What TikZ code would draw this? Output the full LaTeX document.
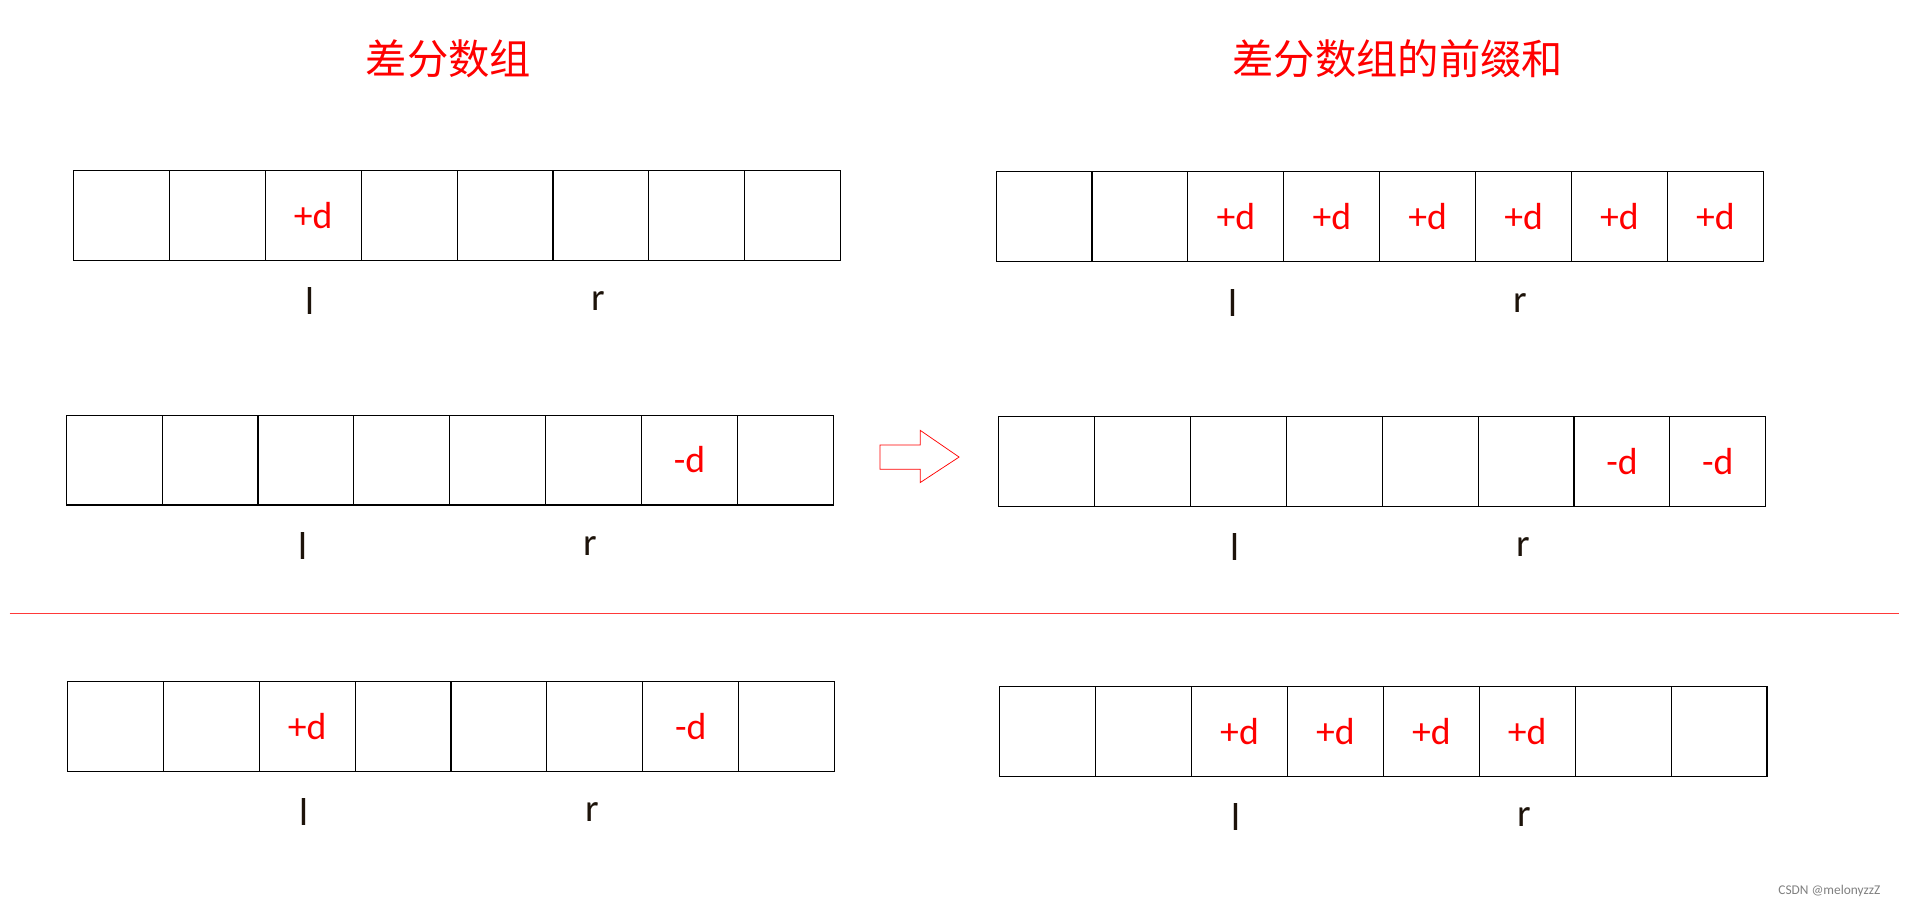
\documentclass[tikz,border=0pt]{standalone}
\usepackage{fontspec}
\setmainfont{Noto Sans CJK SC}
\newfontfamily\latn{Carlito}
\begin{document}
\begin{tikzpicture}[x=1pt,y=-1pt,
  cell/.style={draw=black,line width=0.9pt,minimum width=78.9pt,minimum height=74pt,inner sep=0pt,anchor=north west,font=\latn\fontsize{31}{31}\selectfont,text=red},
  lbl/.style={font=\latn\fontsize{32}{32}\selectfont,text=black!85!brown},
  ttl/.style={font=\fontsize{34}{34}\selectfont,text=red}]
\useasboundingbox (0,0) rectangle (1568,748);
\fill[white] (0,0) rectangle (1568,748);
\node[ttl] (t1) at (369,48) {差分数组};
\node[ttl] (t2) at (1150,48) {差分数组的前缀和};
\foreach \nm/\x/\y/\a/\b/\c/\d/\e/\f/\g/\h in {
  A/60/140/ / /+d/ / / / / ,
  B/819/141/ / /+d/+d/+d/+d/+d/+d,
  C/54/341/ / / / / / /-d/ ,
  D/821/342/ / / / / / /-d/-d,
  E/55/560/ / /+d/ / / /-d/ ,
  F/822/564/ / /+d/+d/+d/+d/ / }{
  \foreach \t [count=\i from 0] in {\a,\b,\c,\d,\e,\f,\g,\h}
    \node[cell] (\nm\i) at (\x+\i*78.9,\y) {\t};
  \node[lbl] (\nm l) at (\x+195,\y+108) {l};
  \node[lbl] (\nm r) at (\x+432,\y+108) {r};
}
\draw[red,line width=0.6pt] (724,366) -- (757,366) -- (757,354) -- (789,376) -- (757,397) -- (757,386) -- (724,386) -- cycle;
\draw[red!70!pink,line width=0.8pt] (8,505) -- (1562,505);
\node[text=gray,font=\latn\fontsize{11}{11}\selectfont] (wm) at (1505,733) {CSDN @melonyzzZ};
\end{tikzpicture}
\end{document}
